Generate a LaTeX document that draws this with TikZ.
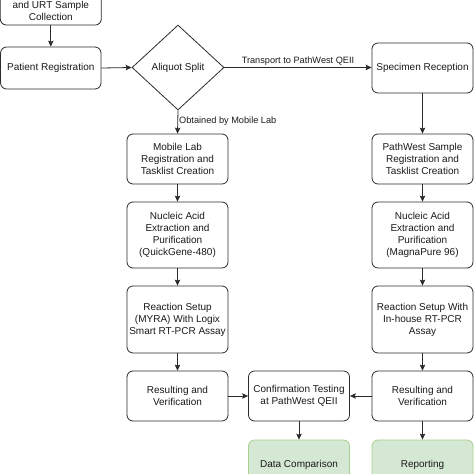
\documentclass[tikz,border=0pt]{standalone}
\usepackage{fontspec}
\setmainfont{Liberation Sans}
\usetikzlibrary{arrows.meta,shapes.geometric}
\definecolor{linecol}{HTML}{2B2B2B}
\definecolor{txtcol}{HTML}{1A1A1A}
\definecolor{greenfill}{HTML}{D5E8D4}
\definecolor{greenline}{HTML}{A9D08E}
\begin{document}
\begin{tikzpicture}[x=1pt,y=-1pt,
  box/.style={draw=linecol,line width=0.8pt,rounded corners=6pt,fill=white,
    minimum width=101pt,align=center,text=txtcol,inner sep=1pt,
    font=\fontsize{10}{12}\selectfont},
  greenbox/.style={box,draw=greenline,fill=greenfill},
  decision/.style={draw=linecol,line width=0.8pt,diamond,aspect=1.08,fill=white,
    minimum width=92pt,minimum height=85pt,inner sep=0pt,text=txtcol,
    font=\fontsize{10}{12}\selectfont},
  arr/.style={draw=linecol,line width=0.8pt,-{Stealth[length=6pt,width=5.5pt,inset=1.2pt]}},
  elabel/.style={text=txtcol,inner sep=1pt,font=\fontsize{9.2}{11}\selectfont}]
\useasboundingbox (0,0) rectangle (474,474);
% top box (cut off)
\node[box,minimum height=50pt] (collect) at (50.8,0) {};
\node[text=txtcol,align=center,font=\fontsize{10}{12}\selectfont,inner sep=0pt] (collecttxt) at (50.8,10.5) {and URT Sample\\Collection};
\node[box,minimum width=100.4pt,minimum height=42pt] (patient) at (50.8,68) {Patient Registration};
\node[decision] (aliquot) at (178,67.5) {Aliquot Split};
\node[box,minimum height=50pt] (specimen) at (422.5,68) {Specimen Reception};
% left column
\node[box,minimum height=50pt] (mobile) at (177.5,159) {Mobile Lab\\Registration and\\Tasklist Creation};
\node[box,minimum height=66pt] (nucleicL) at (177.5,235) {Nucleic Acid\\Extraction and\\Purification\\(QuickGene-480)};
\node[box,minimum height=67pt] (reactL) at (177.5,319.5) {Reaction Setup\\(MYRA) With Logix\\Smart RT-PCR Assay};
\node[box,minimum height=50pt] (resultL) at (177.5,396) {Resulting and\\Verification};
% middle
\node[box,minimum height=50pt] (confirm) at (299,396) {Confirmation Testing\\at PathWest QEII};
\node[greenbox,minimum height=50pt] (compare) at (299,465) {Data Comparison};
% right column
\node[box,minimum height=50pt] (pathwest) at (422.5,159) {PathWest Sample\\Registration and\\Tasklist Creation};
\node[box,minimum height=66pt] (nucleicR) at (422.5,235) {Nucleic Acid\\Extraction and\\Purification\\(MagnaPure 96)};
\node[box,minimum height=67pt] (reactR) at (422.5,319.5) {Reaction Setup With\\In-house RT-PCR\\Assay};
\node[box,minimum height=50pt] (resultR) at (422.5,396) {Resulting and\\Verification};
\node[greenbox,minimum height=50pt] (report) at (422.5,465) {Reporting};
% connectors
\draw[arr] (collect.south) -- (patient.north);
\draw[arr] (patient.east) -- (aliquot.west);
\draw[arr] (aliquot.east) -- node[elabel,above=1pt] (translabel) {Transport to PathWest QEII} (specimen.west |- aliquot.east);
\draw[arr] (aliquot.south) -- node[elabel,right=0pt,pos=0.45] (moblabel) {Obtained by Mobile Lab} (mobile.north);
\draw[arr] (mobile.south) -- (nucleicL.north);
\draw[arr] (nucleicL.south) -- (reactL.north);
\draw[arr] (reactL.south) -- (resultL.north);
\draw[arr] (resultL.east) -- (confirm.west);
\draw[arr] (resultR.west) -- (confirm.east);
\draw[arr] (confirm.south) -- (compare.north);
\draw[arr] (specimen.south) -- (pathwest.north);
\draw[arr] (pathwest.south) -- (nucleicR.north);
\draw[arr] (nucleicR.south) -- (reactR.north);
\draw[arr] (reactR.south) -- (resultR.north);
\draw[arr] (resultR.south) -- (report.north);
\end{tikzpicture}
\end{document}
